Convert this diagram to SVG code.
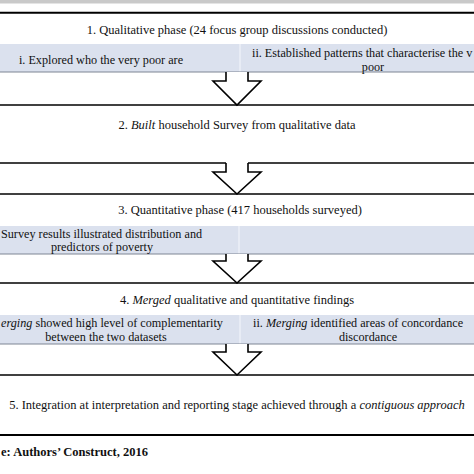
<svg xmlns="http://www.w3.org/2000/svg" width="474" height="474" viewBox="0 0 474 474">
<style>
text{font-family:"Liberation Serif","Times New Roman",serif;font-size:12.5px;fill:#111}
.s{font-size:12.2px}
.m{text-anchor:middle}
.e{text-anchor:end}
.band{fill:#dbe1ee}
.bl{stroke:#7f8594;stroke-width:1.2}
.sep{stroke:#e8ecf5;stroke-width:2}
.hl{stroke:#000;stroke-width:1.6;fill:none}
.arrow{fill:#fff;stroke:#000;stroke-width:1.6;stroke-linejoin:miter}
</style>
<rect x="0" y="0" width="474" height="474" fill="#fff"/>
<rect x="0" y="0" width="474" height="3.5" fill="#c9c9c9"/>
<g id="rules">
<line class="hl" x1="0" y1="12.8" x2="474" y2="12.8" style="stroke-width:2"/>
<line class="hl" x1="0" y1="105" x2="474" y2="105"/>
<line class="hl" x1="0" y1="163" x2="226" y2="163"/>
<line class="hl" x1="248" y1="163" x2="474" y2="163"/>
<line class="hl" x1="0" y1="194" x2="474" y2="194"/>
<line class="hl" x1="0" y1="283" x2="474" y2="283"/>
<line class="hl" x1="0" y1="375" x2="474" y2="375"/>
<line class="hl" x1="0" y1="435" x2="474" y2="435" style="stroke-width:2"/>
</g>
<g id="node1">
<text class="m" x="237" y="34">1. Qualitative phase (24 focus group discussions conducted)</text>
<rect class="band" x="0" y="44" width="474" height="28"/>
<line class="sep" x1="240" y1="44" x2="240" y2="72"/>
<line class="bl" x1="0" y1="72" x2="474" y2="72"/>
<text class="m s" x="101" y="64">i. Explored who the very poor are</text>
<text class="s" x="252" y="57">ii. Established patterns that characterise the v</text>
<text class="m s" x="373" y="70.5">poor</text>
</g>
<g id="node2">
<text class="m" x="237" y="129">2. <tspan font-style="italic">Built</tspan> household Survey from qualitative data</text>
</g>
<g id="node3">
<text class="m" x="240" y="214">3. Quantitative phase (417 households surveyed)</text>
<rect class="band" x="0" y="226" width="474" height="28"/>
<line class="sep" x1="239" y1="226" x2="239" y2="254"/>
<line class="bl" x1="0" y1="254" x2="474" y2="254"/>
<text class="s" x="1" y="238">Survey results illustrated distribution and</text>
<text class="m s" x="102" y="251">predictors of poverty</text>
</g>
<g id="node4">
<text class="m" x="237" y="304">4. <tspan font-style="italic">Merged</tspan> qualitative and quantitative findings</text>
<rect class="band" x="0" y="315" width="474" height="29"/>
<line class="sep" x1="240" y1="315" x2="240" y2="344"/>
<line class="bl" x1="0" y1="344" x2="474" y2="344"/>
<text class="s" x="1" y="327"><tspan font-style="italic">erging</tspan> showed high level of complementarity</text>
<text class="m s" x="106" y="341">between the two datasets</text>
<text class="s" x="253" y="327">ii. <tspan font-style="italic">Merging</tspan> identified areas of concordance</text>
<text class="m s" x="368" y="341">discordance</text>
</g>
<g id="node5">
<text class="m" x="237" y="409">5. Integration at interpretation and reporting stage achieved through a  <tspan font-style="italic">contiguous approach</tspan></text>
</g>
<g id="source">
<text x="1" y="456" font-weight="bold">e: Authors’ Construct, 2016</text>
</g>
<g id="connectors">
<path class="arrow" d="M226,72 V81 H213 L237,105 L261,81 H248 V72"/>
<path class="arrow" d="M226,163 V172 H213 L237,194 L261,172 H248 V163"/>
<path class="arrow" d="M226,254 V261 H213 L237,283 L261,261 H248 V254"/>
<path class="arrow" d="M226,344 V352 H213 L237,375 L261,352 H248 V344"/>
</g>
</svg>
